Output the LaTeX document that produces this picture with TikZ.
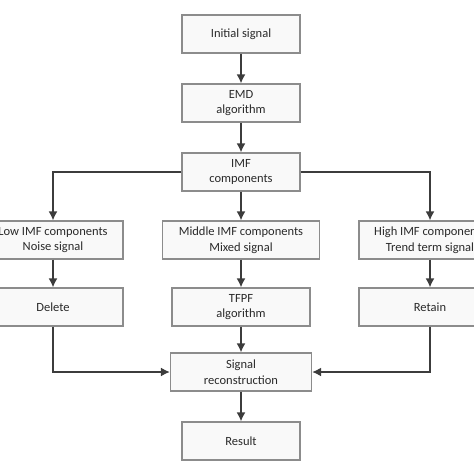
\documentclass[tikz,border=0pt]{standalone}
\usepackage{fontspec}
\setmainfont{Carlito}
\usetikzlibrary{arrows.meta}
\definecolor{boxline}{HTML}{8C8C8C}\definecolor{boxfill}{HTML}{F9F9F9}\definecolor{arr}{HTML}{3C3C3C}\definecolor{txt}{HTML}{2A2A2A}
\tikzset{box/.style={draw=boxline,fill=boxfill,line width=1.2pt,text=txt,align=center,minimum height=38pt,inner sep=1pt,font=\fontsize{12.5}{15.5}\selectfont},
link/.style={draw=arr,line width=1.6pt,-{Latex[length=9pt,width=9pt]}}}
\begin{document}
\begin{tikzpicture}[x=1pt,y=-1pt]
\useasboundingbox(0,0)rectangle(474,474);\clip(0,0)rectangle(474,474);
\node[box,minimum width=118pt](init)at(241,34){Initial signal};\node[box,minimum width=118pt](emd)at(241,103){EMD\\algorithm};\node[box,minimum width=118pt](imf)at(241,172){IMF\\components};
\node[box,minimum width=140pt](low)at(53,240){Low IMF components\\Noise signal};\node[box,minimum width=157pt](mid)at(241,240){Middle IMF components\\Mixed signal};\node[box,minimum width=142pt](high)at(430,240){High IMF components\\Trend term signal};
\node[box,minimum width=140pt](del)at(53,307){Delete};\node[box,minimum width=138pt](tfpf)at(241,307){TFPF\\algorithm};\node[box,minimum width=142pt](ret)at(430,307){Retain};
\node[box,minimum width=141pt](rec)at(241,372){Signal\\reconstruction};\node[box,minimum width=118pt](res)at(241,441){Result};
\foreach\a/\b in{init/emd,emd/imf,imf/mid,low/del,mid/tfpf,high/ret,tfpf/rec,rec/res}{\draw[link](\a)--(\b);}
\draw[link](imf.west)-|(low);\draw[link](imf.east)-|(high);
\draw[link](del)|-(rec);\draw[link](ret)|-(rec);
\end{tikzpicture}
\end{document}
